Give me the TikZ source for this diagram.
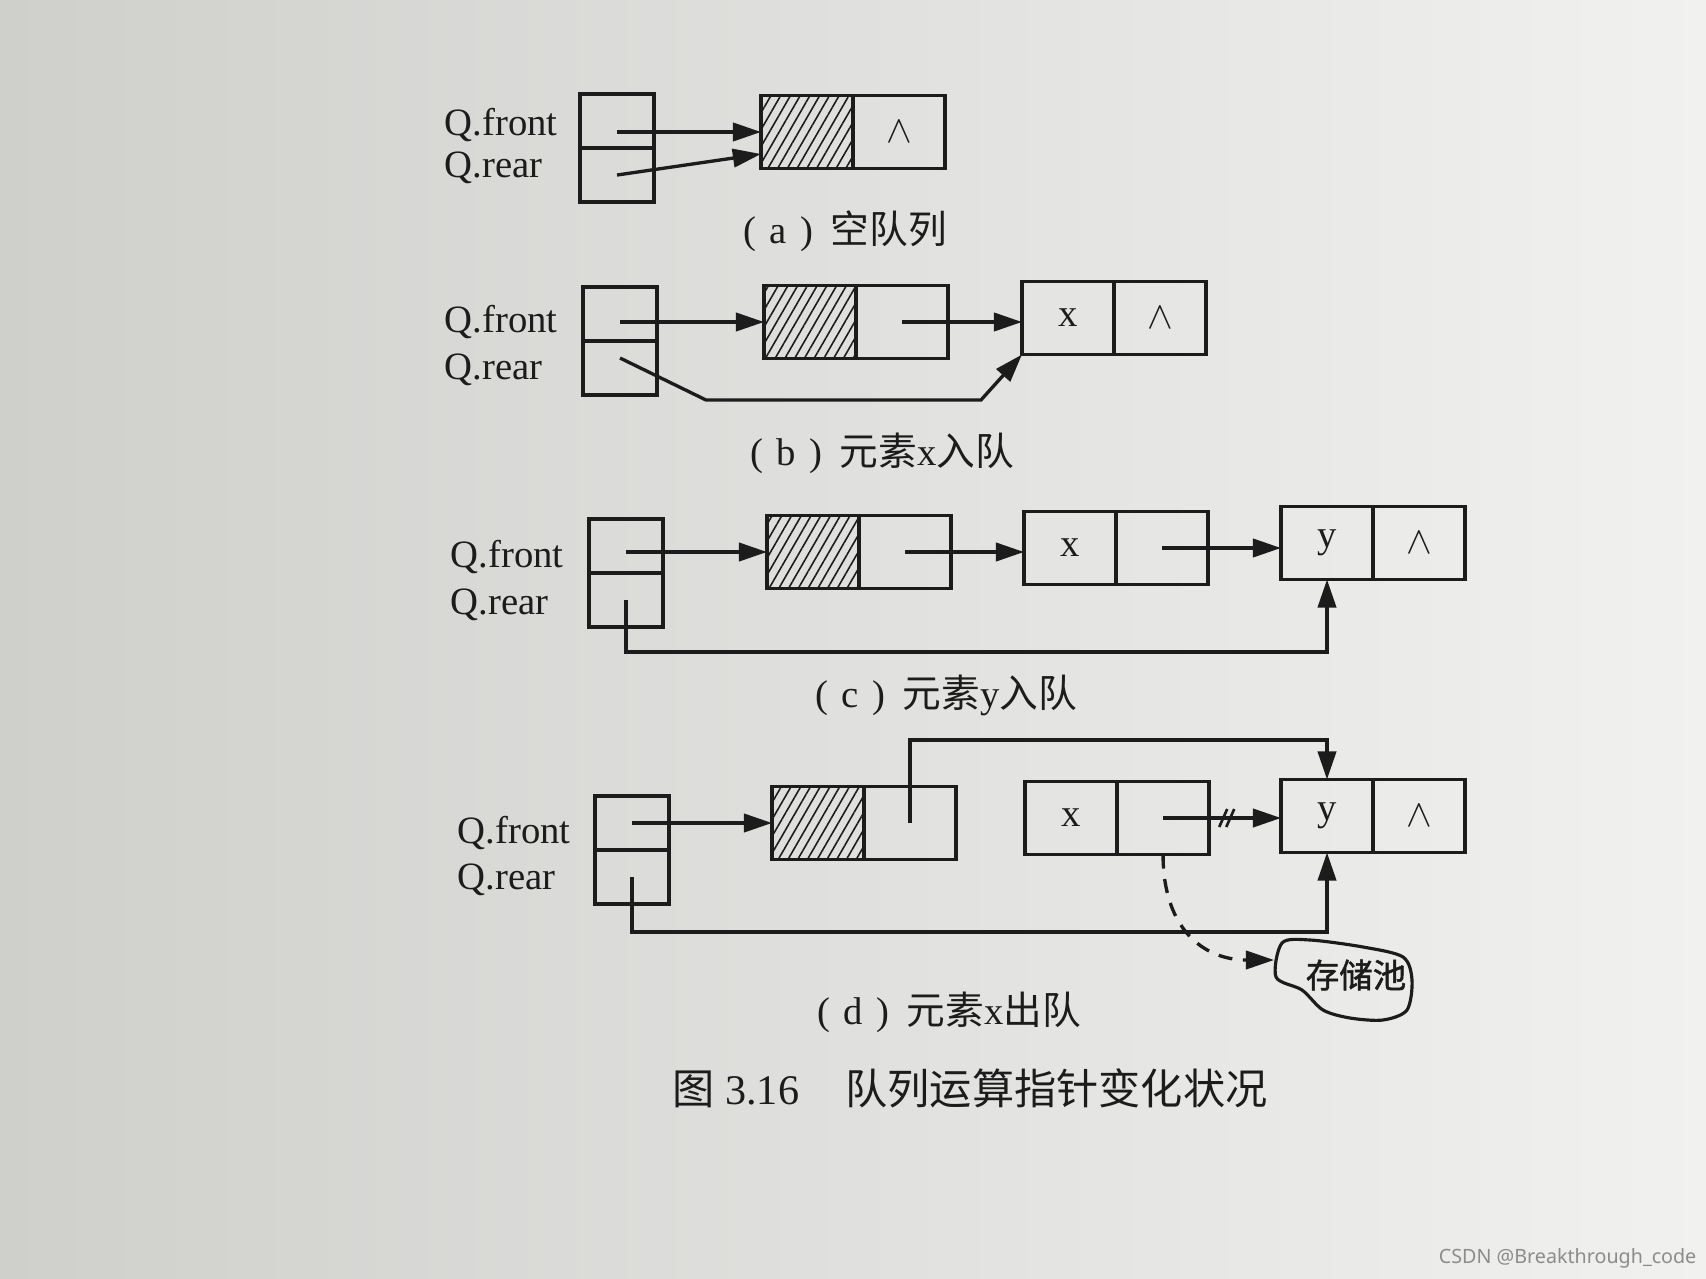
\documentclass[tikz,border=0pt]{standalone}
\usepackage{fontspec}
\setmainfont{Liberation Serif}
\newfontfamily\cjk{Noto Sans CJK SC}
\newfontfamily\cjkbold[FakeBold=1.5]{Noto Sans CJK SC}
\newfontfamily\wmfont{Noto Sans}
\usetikzlibrary{arrows.meta,patterns.meta,positioning}

\definecolor{Cpaperl}{RGB}{207,207,204}
\definecolor{Cpaperm}{RGB}{222,222,219}
\definecolor{Cpaperr}{RGB}{241,241,240}
\definecolor{Cink}{RGB}{28,28,28}

\newcommand{\subcap}[2]{(\hspace{0.35em}#1\hspace{0.35em})\hspace{0.45em}#2}

\tikzset{
	ptr/.style={draw=Cink,line width=1pt,minimum width=0.74cm,minimum height=0.54cm,inner sep=0pt,outer sep=0pt},
	cell/.style={draw=Cink,line width=1pt,minimum width=0.92cm,minimum height=0.73cm,inner sep=0pt,outer sep=0pt,text=Cink,font=\fontsize{11}{11}\selectfont},
	hatch/.style={cell,pattern={Lines[angle=60,distance=2.4pt,line width=0.45pt]},pattern color=Cink},
	lbl/.style={anchor=west,inner sep=0pt,text=Cink,font=\fontsize{11}{11}\selectfont},
	capt/.style={inner sep=0pt,text=Cink,font=\fontsize{11}{11}\selectfont},
	link/.style={draw=Cink,line width=0.95pt,-{Triangle[length=8pt,width=5.2pt]}},
}

\begin{document}
\begin{tikzpicture}[x=0.01cm,y=-0.01cm]
		\useasboundingbox (0,0) rectangle (1706,1279);
		\shade[left color=Cpaperl,middle color=Cpaperm,right color=Cpaperr] (0,0) rectangle (1706,1279);

		% (a)
		\node[ptr] (fa) at (617,121) {};
		\node[ptr,below=0pt of fa] (ra) {};
		\node[lbl] (qfa) at (444,125) {Q.front};
		\node[lbl] (qra) at (444,168) {Q.rear};
		\node[hatch] (a0) at (807,132) {};
		\node[cell,right=0pt of a0] (a0n) {$\wedge$};
		\draw[link] (fa.center |- a0.west) -- (a0.west);
		\draw[link] (ra.center) -- ([yshift=-0.22cm]a0.west);
		\node[capt] (capa) at (845,231) {\subcap{a}{\cjk 空队列}};

		% (b)
		\node[ptr] (fb) at (620,314) {};
		\node[ptr,below=0pt of fb] (rb) {};
		\node[lbl] (qfb) at (444,322) {Q.front};
		\node[lbl] (qrb) at (444,370) {Q.rear};
		\node[hatch] (b0) at (810,322) {};
		\node[cell,right=0pt of b0] (b0n) {};
		\node[cell] (b1) at (1068,318) {x};
		\node[cell,right=0pt of b1] (b1n) {$\wedge$};
		\draw[link] (fb.center |- b0.west) -- (b0.west);
		\draw[link] (b0n.center) -- (b0n.center -| b1.west);
		\draw[link] ([yshift=0.1cm]rb.center) -- (706,400) -- (981,400) -- (b1.south west);
		\node[capt] (capb) at (882,453) {\subcap{b}{{\cjk 元素}x{\cjk 入队}}};

		% (c)
		\node[ptr] (fc) at (626,546) {};
		\node[ptr,below=0pt of fc] (rc) {};
		\node[lbl] (qfc) at (450,557) {Q.front};
		\node[lbl] (qrc) at (450,605) {Q.rear};
		\node[hatch] (c0) at (813,552) {};
		\node[cell,right=0pt of c0] (c0n) {};
		\node[cell] (c1) at (1070,548) {x};
		\node[cell,right=0pt of c1] (c1n) {};
		\node[cell] (c2) at (1327,543) {y};
		\node[cell,right=0pt of c2] (c2n) {$\wedge$};
		\draw[link] (fc.center |- c0.west) -- (c0.west);
		\draw[link] (c0n.center) -- (c0n.center -| c1.west);
		\draw[link] (c1n.center) -- (c1n.center -| c2.west);
		\draw[link] (rc.center) -- (rc.center |- 0,652) -| (c2.south);
		\node[capt] (capc) at (946,695) {\subcap{c}{{\cjk 元素}y{\cjk 入队}}};

		% (d)
		\node[ptr] (fd) at (632,823) {};
		\node[ptr,below=0pt of fd] (rd) {};
		\node[lbl] (qfd) at (457,833) {Q.front};
		\node[lbl] (qrd) at (457,880) {Q.rear};
		\node[hatch] (d0) at (818,823) {};
		\node[cell,right=0pt of d0] (d0n) {};
		\node[cell] (d1) at (1071,818) {x};
		\node[cell,right=0pt of d1] (d1n) {};
		\node[cell] (d2) at (1327,816) {y};
		\node[cell,right=0pt of d2] (d2n) {$\wedge$};
		\draw[link] (fd.center) -- (fd.center -| d0.west);
		\draw[link] (d0n.center) -- (d0n.center |- 0,740) -| (d2.north);
		\draw[link] (d1n.center) -- (d1n.center -| d2.west) coordinate[pos=0.54] (cut);
		\draw[Cink,line width=0.75pt] ([xshift=-0.035cm]cut) +(-4,9) -- +(4,-9);
		\draw[Cink,line width=0.75pt] ([xshift=0.035cm]cut) +(-4,9) -- +(4,-9);
		\draw[link] (rd.center) -- (rd.center |- 0,932) -| (d2.south);
		\coordinate (poolin) at (1274,960);
		\node[inner sep=0pt,text=Cink,font=\fontsize{9.5}{9.5}\selectfont] (pool) at (1356,975) {\cjkbold 存储池};
		\draw[Cink,line width=0.9pt] plot[smooth cycle] coordinates {(1282,943) (1276,977) (1302,990) (1323,1010) (1350,1018) (1383,1020) (1407,1010) (1412,980) (1403,957) (1363,947) (1310,940)};
		\draw[link,dash pattern=on 4pt off 3pt] (d1n.south) .. controls +(0,75) and +(-70,0) .. (poolin);
		\node[capt] (capd) at (949,1012) {\subcap{d}{{\cjk 元素}x{\cjk 出队}}};

		\node[inner sep=0pt,text=Cink,font=\fontsize{12}{12}\selectfont] (title) at (970,1088) {{\cjk 图} 3.16\hspace{1.1em}{\cjk 队列运算指针变化状况}};
		\node[anchor=east,inner sep=0pt,text=black!45,font=\wmfont\fontsize{5.6}{6}\selectfont] (wm) at (1697,1258) {CSDN @Breakthrough\_code};
	\end{tikzpicture}
\end{document}
